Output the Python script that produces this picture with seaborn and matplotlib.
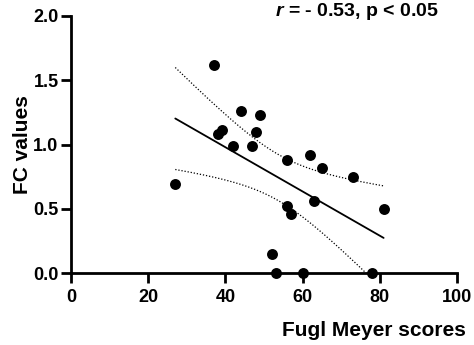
import numpy as np
import pandas as pd
import matplotlib
matplotlib.use("Agg")
import matplotlib.pyplot as plt
import seaborn as sns

# Fugl Meyer scores and functional connectivity values per subject
fugl_meyer = [27, 37, 38, 39, 42, 44, 47, 48, 49, 56, 62, 65, 73, 81, 63, 56, 57, 52, 53, 60, 78]
fc_values = [0.69, 1.62, 1.08, 1.11, 0.99, 1.26, 0.99, 1.10, 1.23, 0.88, 0.92, 0.82, 0.75, 0.50,
             0.56, 0.52, 0.46, 0.15, 0.00, 0.00, 0.00]
annotation = "$\\it{r}$ = - 0.53, p < 0.05"
x_ticks = [0, 20, 40, 60, 80, 100]
y_ticks = [0.0, 0.5, 1.0, 1.5, 2.0]

df = pd.DataFrame({"fm": fugl_meyer, "fc": fc_values})

sns.set_theme(style="ticks")
plt.rcParams["font.family"] = ["Liberation Sans", "DejaVu Sans"]
plt.rcParams["font.weight"] = "bold"
plt.rcParams["text.color"] = "black"
plt.rcParams["axes.labelcolor"] = "black"
plt.rcParams["mathtext.fontset"] = "custom"
plt.rcParams["mathtext.it"] = "Liberation Sans:italic:bold"
plt.rcParams["mathtext.rm"] = "Liberation Sans:bold"

fig = plt.figure(figsize=(4.74, 3.45), dpi=100)
ax = fig.add_axes([0.150, 0.208, 0.814, 0.746])

# points
sns.scatterplot(data=df, x="fm", y="fc", ax=ax, color="black", s=62,
                edgecolor="black", linewidth=0, clip_on=False, zorder=3)

# least-squares fit and 95% confidence band of the mean
x = np.asarray(fugl_meyer, float)
y = np.asarray(fc_values, float)
n = len(x)
slope, intercept = np.polyfit(x, y, 1)
xs = np.linspace(x.min(), x.max(), 200)
fit = intercept + slope * xs
resid = y - (intercept + slope * x)
s = np.sqrt(np.sum(resid ** 2) / (n - 2))
sxx = np.sum((x - x.mean()) ** 2)
t_crit = 2.093  # two-sided 95%, 19 degrees of freedom
half = t_crit * s * np.sqrt(1.0 / n + (xs - x.mean()) ** 2 / sxx)

sns.lineplot(x=xs, y=fit, ax=ax, color="black", linewidth=1.3, zorder=2)
sns.lineplot(x=xs, y=fit + half, ax=ax, color="black", linewidth=0.9,
             linestyle=(0, (1, 1.5)), zorder=2)
sns.lineplot(x=xs, y=fit - half, ax=ax, color="black", linewidth=0.9,
             linestyle=(0, (1, 1.5)), zorder=2)

ax.set_xlim(0, 100)
ax.set_ylim(0, 2.0)
ax.set_xticks(x_ticks)
ax.set_yticks(y_ticks)
ax.set_xticklabels([str(t) for t in x_ticks], fontsize=13, fontweight="bold")
ax.set_yticklabels([f"{t:.1f}" for t in y_ticks], fontsize=13, fontweight="bold")

for side in ("top", "right"):
    ax.spines[side].set_visible(False)
for side in ("left", "bottom"):
    ax.spines[side].set_linewidth(2.0)
    ax.spines[side].set_color("black")
ax.tick_params(axis="both", width=2.0, length=7, color="black", labelcolor="black")
ax.tick_params(axis="x", pad=4)
ax.tick_params(axis="y", pad=2)

ax.set_xlabel("")
ax.set_ylabel("FC values", fontsize=15, fontweight="bold", labelpad=1)
fig.text(0.982, 0.025, "Fugl Meyer scores", ha="right", va="baseline",
         fontsize=15, fontweight="bold")
ax.text(95.5, 2.0, annotation, ha="right", va="baseline", fontsize=14,
        fontweight="bold")

fig.savefig("out.png", dpi=100)
